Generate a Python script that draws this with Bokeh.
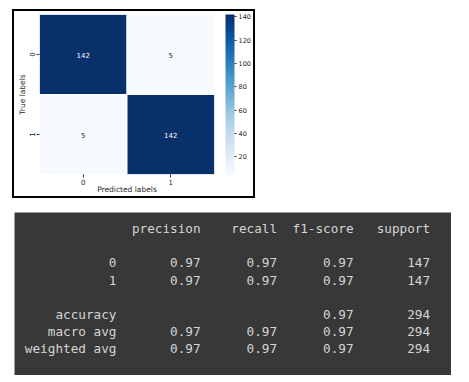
from bokeh.plotting import figure
from bokeh.models import ColumnDataSource, LinearColorMapper, ColorBar, FixedTicker, Range1d, Spacer
from bokeh.layouts import column, row
from bokeh.palettes import Blues256
from bokeh.embed import file_html
from bokeh.resources import INLINE
from bokeh.core.properties import value

# ---- data ----
classes = ["0", "1"]
cm_row0 = [142, 5]
cm_row1 = [5, 142]
cbar_ticks = [20, 40, 60, 80, 100, 120, 140]

report_labels = ["0", "1", "accuracy", "macro avg", "weighted avg"]
precision = [0.97, 0.97, None, 0.97, 0.97]
recall = [0.97, 0.97, None, 0.97, 0.97]
f1_score = [0.97, 0.97, 0.97, 0.97, 0.97]
support = [147, 147, 294, 294, 294]
headers = ["precision", "recall", "f1-score", "support"]

# ---- heatmap ----
cm = [cm_row0, cm_row1]
vmin = min(min(r) for r in cm)
vmax = max(max(r) for r in cm)
mapper = LinearColorMapper(palette=list(reversed(Blues256)), low=vmin, high=vmax)

xs, ys, vals, labs, tcols = [], [], [], [], []
for i, t in enumerate(classes):
    for j, pr in enumerate(classes):
        v = cm[i][j]
        xs.append(pr); ys.append(t); vals.append(v); labs.append(str(v))
        tcols.append("white" if v > (vmin + vmax) / 2 else "#262626")
src = ColumnDataSource(dict(x=xs, y=ys, v=vals, lab=labs, tc=tcols))

p1 = figure(x_range=classes, y_range=list(reversed(classes)),
            frame_width=175, frame_height=160,
            output_backend="svg", toolbar_location=None, title=None,
            min_border_left=22, min_border_top=3, min_border_bottom=20, min_border_right=39)
p1.rect(x="x", y="y", width=1, height=1, source=src,
        fill_color={"field": "v", "transform": mapper}, line_color="white", line_width=1)
p1.text(x="x", y="y", text="lab", source=src, text_align="center", text_baseline="middle",
        text_font_size="7px", text_color="tc", text_font=value("DejaVu Sans"))
p1.grid.visible = False
p1.outline_line_color = None
for ax in (p1.xaxis, p1.yaxis):
    ax.axis_line_color = None
    ax.major_tick_in = 0
    ax.major_tick_out = 3
    ax.major_tick_line_color = "#333333"
    ax.major_label_text_font_size = "7px"
    ax.major_label_text_color = "#262626"
    ax.major_label_text_font = "DejaVu Sans"
    ax.axis_label_text_font_size = "7.5px"
    ax.axis_label_text_font_style = "normal"
    ax.axis_label_text_color = "#262626"
    ax.axis_label_text_font = "DejaVu Sans"
    ax.major_label_standoff = 2
    ax.axis_label_standoff = 1
p1.xaxis.major_label_standoff = 1
p1.xaxis.axis_label_standoff = -3
p1.yaxis.axis_label_standoff = -1
p1.xaxis.axis_label = "Predicted labels"
p1.yaxis.axis_label = "True labels"
p1.yaxis.major_label_orientation = "vertical"

cb = ColorBar(color_mapper=mapper, ticker=FixedTicker(ticks=cbar_ticks), width=9, height=160,
              location=(11, 0), padding=0, margin=0, major_tick_in=0, major_tick_out=2,
              major_tick_line_color="#333333", label_standoff=2,
              major_label_text_font_size="6.5px", major_label_text_color="#262626",
              major_label_text_font="DejaVu Sans",
              bar_line_color=None, border_line_color=None, background_fill_color=None)
p1.add_layout(cb, "right")
p1.styles = {"outline": "2px solid black"}

# ---- classification report table ----
label_w = max(len(s) for s in report_labels)
col_w = 10
col_right = [label_w + 1 + col_w * (k + 1) for k in range(len(headers))]
cols = [precision, recall, f1_score, support]

tx, ty, tt = [], [], []
for k, h in enumerate(headers):
    tx.append(col_right[k]); ty.append(0); tt.append(h)
line_of_row = [2, 3, 5, 6, 7]
for r, lab in enumerate(report_labels):
    tx.append(label_w); ty.append(line_of_row[r]); tt.append(lab)
    for k, c in enumerate(cols):
        val = c[r]
        if val is None:
            continue
        txt = f"{val:.2f}" if isinstance(val, float) else str(val)
        tx.append(col_right[k]); ty.append(line_of_row[r]); tt.append(txt)
tsrc = ColumnDataSource(dict(x=tx, y=ty, t=tt))

char_px = 7.65
line_px = 17.2
W, H = 437, 163
x0 = -10.2 / char_px
y0 = -16 / line_px
p2 = figure(frame_width=W, frame_height=H, output_backend="svg", toolbar_location=None,
            title=None, x_axis_location=None, y_axis_location=None,
            x_range=Range1d(x0, x0 + W / char_px), y_range=Range1d(y0 + H / line_px, y0),
            min_border=0, background_fill_color="#383838", border_fill_color="#383838")
p2.grid.visible = False
p2.outline_line_color = None
p2.text(x="x", y="y", text="t", source=tsrc, text_align="right", text_baseline="middle",
        text_font=value("DejaVu Sans Mono"), text_font_size="12.7px", text_color="#d5d5d5")

layout = column(
    Spacer(width=10, height=11, sizing_mode="fixed"),
    row(Spacer(width=14, height=10, sizing_mode="fixed"), p1),
    Spacer(width=10, height=16, sizing_mode="fixed"),
    row(Spacer(width=14, height=10, sizing_mode="fixed"), p2),
)
open("out.html", "w").write(file_html(layout, INLINE))
